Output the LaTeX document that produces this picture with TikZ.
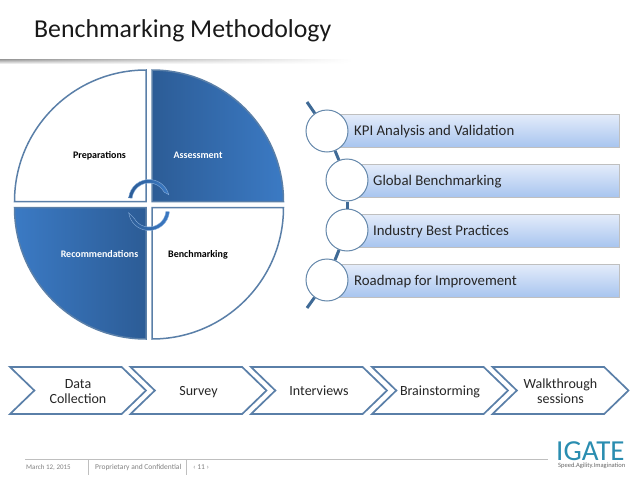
\documentclass[tikz,border=0pt]{standalone}
\usepackage{fontspec}
\setmainfont{Carlito}
\usetikzlibrary{shapes.symbols,shadows,fadings}

\definecolor{pieline}{HTML}{5A7FA8}
\definecolor{piedark}{HTML}{2C5C96}
\definecolor{pielight}{HTML}{3B7AC4}
\definecolor{spine}{HTML}{3F6A96}
\definecolor{logoblue}{HTML}{2A8DB0}
\definecolor{boxtop}{HTML}{E4ECFA}
\definecolor{boxbot}{HTML}{A8C5EF}

\newcommand{\lowstrut}{\rule[-2.5pt]{0pt}{15pt}}

\tikzset{
    sector/.style   = {draw=pieline, line width=1.5pt},
    pielabel/.style = {font=\fontsize{10}{12}\selectfont\bfseries, text height=7pt, text depth=2pt, inner sep=0pt},
    itembox/.style  = {draw=black!25, line width=0.5pt, top color=boxtop, bottom color=boxbot,
                       drop shadow={shadow xshift=0.5pt, shadow yshift=-1pt, opacity=0.4}},
    itemtext/.style = {font=\fontsize{14.8}{16}\selectfont, anchor=west, text=black!85,
                       text height=10pt, text depth=3pt, inner sep=0pt},
    bead/.style     = {circle, draw=spine!80, line width=1pt, fill=white, minimum size=42pt, inner sep=0pt},
    spineline/.style= {draw=spine, line width=3pt},
    chevron/.style  = {signal, signal from=west, signal to=east, signal pointer angle=88,
                       draw=pieline, line width=1.7pt, fill=white, minimum width=136pt, minimum height=47pt,
                       inner sep=0pt, align=center, text=black!85,
                       font=\fontsize{14}{15}\selectfont},
    footer/.style   = {font=\fontsize{7.5}{9}\selectfont, text=black!50, anchor=west, inner sep=0pt},
    turnarrow/.style= {draw=pielight!60, line width=0.4pt, left color=piedark, right color=pielight},
}

\begin{document}
\begin{tikzpicture}[x=1pt, y=-1pt]
    \useasboundingbox (0,0) rectangle (638,479);

    % title
    \node[anchor=west, inner sep=0pt, font=\fontsize{25.8}{30}\selectfont, text=black!90] (title) at (34,31) {Benchmarking Methodology};
    \shade[left color=black!42, right color=white, path fading=south] (0,59) rectangle (352,64);

    % pie
    \path[sector, fill=white] (146,201.5) -- (14.5,201.5) arc (180:270:131.5) -- cycle;
    \path[sector, left color=piedark, right color=pielight] (152,201.5) -- (152,70) arc (270:360:131.5) -- cycle;
    \path[sector, left color=pielight, right color=piedark] (146,207.5) -- (146,339) arc (90:180:131.5) -- cycle;
    \path[sector, fill=white] (152,207.5) -- (283.5,207.5) arc (0:90:131.5) -- cycle;

    \node[pielabel] (prep) at (99.5,156) {Preparations};
    \node[pielabel, text=white] (assess) at (198,156) {Assessment};
    \node[pielabel, text=white] (recom) at (99.5,255) {Recommendations};
    \node[pielabel] (bench) at (198,255) {Benchmarking};

    % the two turning arrows
    \path[turnarrow] ([shift={(149,200)}]186:20.5) arc (186:345:20.5) -- ([shift={(149,200)}]332:17) arc (332:186:17) -- cycle;
    \path[turnarrow] ([shift={(149,210)}]5:20.5) arc (5:172:20.5) -- ([shift={(149,210)}]150:17) arc (150:5:17) -- cycle;

    % list on the right
    \draw[itembox] (335,114) rectangle (619,147);
    \draw[itembox] (335,164) rectangle (619,197);
    \draw[itembox] (335,214) rectangle (619,247);
    \draw[itembox] (335,264) rectangle (619,297);

    \node[itemtext] (kpi)  at (354,131.5) {KPI Analysis and Validation};
    \node[itemtext] (glob) at (373,181.5) {Global Benchmarking};
    \node[itemtext] (ind)  at (373,231.5) {Industry Best Practices};
    \node[itemtext] (road) at (354,281.5) {Roadmap for Improvement};

    \node[bead] (b1) at (327,131) {};
    \node[bead] (b2) at (347,180) {};
    \node[bead] (b3) at (347,230) {};
    \node[bead] (b4) at (327,280) {};

    \coordinate (top) at (307,102);
    \coordinate (bot) at (307,308);
    \draw[spineline] (top) -- (b1);
    \draw[spineline] (b1) -- (b2);
    \draw[spineline] (b2) -- (b3);
    \draw[spineline] (b3) -- (b4);
    \draw[spineline] (b4) -- (bot);

    % chevrons
    \node[chevron] (data)  at (78,390.5)    {Data\lowstrut\\Collection\lowstrut};
    \node[chevron] (surv)  at (198.5,390.5) {Survey\lowstrut};
    \node[chevron] (inter) at (319,390.5)   {Interviews\lowstrut};
    \node[chevron] (brain) at (440,390.5)   {Brainstorming\lowstrut};
    \node[chevron] (walk)  at (560.5,390.5) {Walkthrough\lowstrut\\sessions\lowstrut};

    % footer
    \draw[black!25, line width=0.6pt] (25,459) -- (548,459);
    \draw[black!25, line width=0.6pt] (88,459) -- (88,475);
    \draw[black!25, line width=0.6pt] (186,459) -- (186,475);
    \node[footer, font=\fontsize{7}{9}\selectfont] (date) at (26,467.5) {March 12, 2015};
    \node[footer] (conf) at (95,467.5) {Proprietary and Confidential};
    \node[footer] (page) at (193,467.5) {‹ 11 ›};

    \node[anchor=base west, inner sep=0pt, text=logoblue, font=\fontsize{29}{30}\selectfont] (igate) at (556,460) {IGATE};
    \node[anchor=west, inner sep=0pt, text=black!60, font=\fontsize{6.5}{7}\selectfont, text height=4.5pt, text depth=1.5pt] (slogan) at (558,466) {Speed.Agility.Imagination};
\end{tikzpicture}
\end{document}
